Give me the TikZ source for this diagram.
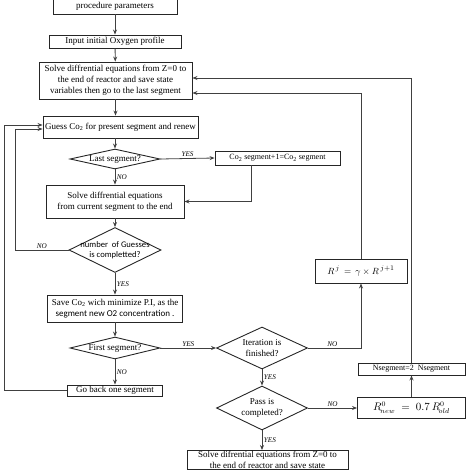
\documentclass[tikz,border=0pt]{standalone}
\usepackage{fontspec}
\setmainfont{Liberation Serif}
\setsansfont{Carlito}
\usetikzlibrary{shapes.geometric, arrows.meta, positioning, calc}

\begin{document}
\begin{tikzpicture}[
        x=1pt, y=-1pt,
        font=\fontsize{9}{10.8}\selectfont,
        process/.style={rectangle, draw=black!85, line width=0.9pt, align=center, inner sep=1pt},
        decision/.style={diamond, draw=black!85, line width=0.9pt, align=center, inner sep=0pt},
        arrow/.style={-{Stealth[length=5pt, width=4pt]}, line width=0.8pt, draw=black!75},
        branch/.style={font=\fontsize{7.2}{8}\selectfont\itshape, inner sep=1.5pt}
    ]
        \useasboundingbox (0,0) rectangle (474,474);
        \clip (0,0) rectangle (474,474);

        \coordinate (inner) at (15,0);
        \coordinate (outer) at (4,0);

        \node[process, minimum width=124pt, minimum height=16pt] (params) at (115,6) {procedure parameters};
        \node[process, minimum width=132pt, minimum height=13pt] (input) at (115,41.5) {Input initial Oxygen profile};
        \node[process, minimum width=153pt, minimum height=37pt] (solve1) at (115.5,80.5) {Solve diffrential equations from Z=0 to\\the end of reactor and save state\\variables then go to the last segment};
        \node[process, minimum width=155pt, minimum height=22pt] (guess) at (120.5,127) {Guess Co\textsubscript{2} for present segment and renew};
        \node[decision, minimum width=90pt, minimum height=20pt, aspect=4.5] (lastseg) at (115,159) {Last segment?};
        \node[process, minimum width=125pt, minimum height=14pt, font=\fontsize{8}{9}\selectfont] (copy) at (277.5,158) {Co\textsubscript{2} segment+1=Co\textsubscript{2} segment};
        \node[process, minimum width=138pt, minimum height=33pt] (solve2) at (115,201.5) {Solve diffrential equations\\from current segment to the end};
        \node[decision, minimum width=92pt, minimum height=45pt, aspect=2, inner sep=-5pt, font=\sffamily\fontsize{8.6}{10}\selectfont] (guesses) at (115,250) {number~~of Guesses\\is completted?};
        \node[process, minimum width=135pt, minimum height=27pt] (save) at (115,308.5) {Save Co\textsubscript{2} wich minimize P.I, as the\\{\sffamily segment new O2 concentration .}};
        \node[decision, minimum width=90pt, minimum height=22pt, aspect=4] (firstseg) at (115,348) {First segment?};
        \node[process, minimum width=95pt, minimum height=11pt] (goback) at (115,390.5) {Go back one segment};
        \node[decision, minimum width=91pt, minimum height=42pt, aspect=2.2] (iter) at (262,348) {Iteration is\\finished?};
        \node[process, minimum width=92pt, minimum height=24pt, font=\fontsize{9.5}{11}\selectfont] (rj) at (361,271) {$R^{\,j} \,=\, \gamma \times R^{\,j+1}$};
        \node[decision, minimum width=91pt, minimum height=44pt, aspect=2.1] (pass) at (262,408) {Pass is\\completed?};
        \node[process, minimum width=108pt, minimum height=21pt, font=\fontsize{10.5}{12}\selectfont] (rnew) at (411.5,407.5) {$R^{0}_{\!new} \;=\; 0.7\,R^{0}_{\!old}$};
        \node[process, minimum width=107pt, minimum height=12pt, font=\fontsize{8}{9}\selectfont] (nseg) at (411.5,369) {Nsegment=2~~Nsegment};
        \node[process, minimum width=161pt, anchor=north] (final) at (267.5,450) {Solve difrential equations from Z=0 to\\the end of reactor and save state};

        \draw[arrow] (params) -- (input);
        \draw[arrow] (input) -- (solve1);
        \draw[arrow] (solve1.south) -- (solve1.south |- guess.north);
        \draw[arrow] (lastseg.north |- guess.south) -- (lastseg.north);
        \draw[arrow] (lastseg.east) -- (copy.west) node[midway, above, branch] {YES};
        \draw[arrow] (lastseg.south) -- (solve2.north) node[midway, right, branch] {NO};
        \draw[arrow] ([xshift=-26.5pt]copy.south) |- (solve2.east);
        \draw[arrow] (solve2.south) -- (guesses.north);
        \draw[arrow] (guesses.west) -- node[above, branch] {NO} (guesses.west -| inner) |- ([yshift=-2pt]guess.west);
        \draw[arrow] (guesses.south) -- (save.north) node[midway, right, branch] {YES};
        \draw[arrow] (save) -- (firstseg);
        \draw[arrow] (firstseg.east) -- (iter.west) node[midway, above, branch] {YES};
        \draw[arrow] (firstseg.south) -- (goback.north) node[midway, right, branch] {NO};
        \draw[arrow] (goback.west) -- (goback.west -| outer) |- ([yshift=2pt]guess.west);
        \draw[arrow] (iter.east) -| (rj.south) node[pos=0.23, above, branch] {NO};
        \draw[arrow] (rj.north) |- ([yshift=-12.5pt]solve1.east);
        \draw[arrow] (iter.south) -- (pass.north) node[midway, right, branch] {YES};
        \draw[arrow] (pass.east) -- (pass.east -| rnew.west) node[midway, above, branch] {NO};
        \draw[arrow] (rnew.north) -- (nseg.south);
        \draw[arrow] (nseg.north) |- ([yshift=2.5pt]solve1.east);
        \draw[arrow] (pass.south) -- (pass.south |- final.north) node[midway, right, branch] {YES};
    \end{tikzpicture}
\end{document}
